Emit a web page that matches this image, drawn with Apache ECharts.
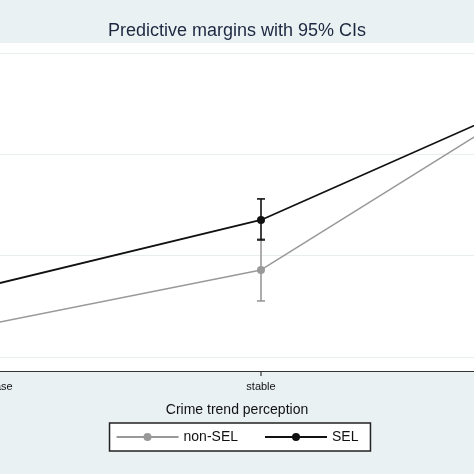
<!DOCTYPE html>
<html><head><meta charset="utf-8">
<script src="https://cdn.jsdelivr.net/npm/echarts@6/dist/echarts.min.js"></script>
<style>html,body{margin:0;padding:0;background:#eaf1f3}#c{width:474px;height:474px}</style>
</head><body><div id="c"></div>
<script>
const categories = ['decrease', 'stable', 'increase'];
const nonSEL = [0.2326, 0.2859, 0.4527];
const nonSELLow = [0.215, 0.2553, 0.430];
const nonSELHigh = [0.250, 0.3165, 0.475];
const SEL = [0.2706, 0.3352, 0.4537];
const SELLow = [0.252, 0.3155, 0.432];
const SELHigh = [0.289, 0.356, 0.476];

function errSeries(name, low, high, color) {
  return {
    type: 'custom', name: name, z: 3, clip: false, itemStyle: { color: color },
    data: categories.map((c, i) => [i, low[i], high[i]]),
    renderItem: function (params, api) {
      const lo = api.coord([api.value(0), api.value(1)]);
      const hi = api.coord([api.value(0), api.value(2)]);
      const w = 4;
      const st = { stroke: color, lineWidth: 1.6 };
      return { type: 'group', children: [
        { type: 'line', shape: { x1: lo[0], y1: lo[1], x2: hi[0], y2: hi[1] }, style: st },
        { type: 'line', shape: { x1: lo[0] - w, y1: lo[1], x2: lo[0] + w, y2: lo[1] }, style: st },
        { type: 'line', shape: { x1: hi[0] - w, y1: hi[1], x2: hi[0] + w, y2: hi[1] }, style: st }
      ]};
    }
  };
}

const labelSeries = {
  type: 'custom', name: 'cats', clip: false, silent: true,
  data: categories.map((c, i) => [i, 0.2]),
  renderItem: function (params, api) {
    const p = api.coord([api.value(0), 0.2]);
    const axisY = p[1] + 14;
    return { type: 'group', children: [
      { type: 'line', shape: { x1: p[0], y1: axisY, x2: p[0], y2: axisY + 5 }, style: { stroke: '#333', lineWidth: 1.2 } },
      { type: 'text', x: p[0], y: axisY + 10, style: { text: categories[params.dataIndex], fill: '#111',
        font: '11px "Liberation Sans"', align: 'center', verticalAlign: 'top' } }
    ]};
  }
};

const chart = echarts.init(document.getElementById('c'));
chart.setOption({
  animation: false,
  backgroundColor: '#eaf1f3',
  graphic: [{ type: 'rect', z: -10, shape: { x: 0, y: 43, width: 474, height: 328 }, style: { fill: '#ffffff' } }],
  title: { text: 'Predictive margins with 95% CIs', left: 'center', top: 17,
    textStyle: { fontFamily: 'Liberation Sans', fontSize: 18, fontWeight: 'normal', color: '#1c2840' } },
  grid: { left: 0, right: 0, top: 53, height: 304 },
  legend: {
    bottom: 23, left: 'center', itemWidth: 62, itemHeight: 10, itemGap: 26,
    borderColor: '#222', borderWidth: 1.5, padding: [7, 12, 7, 6], backgroundColor: '#fff',
    textStyle: { fontFamily: 'Liberation Sans', fontSize: 14, color: '#111' },
    data: [{ name: 'non-SEL' }, { name: 'SEL' }]
  },
  xAxis: {
    type: 'value', min: 1 - 261 / 271, max: 1 + 213 / 271, offset: 14,
    name: 'Crime trend perception', nameLocation: 'middle', nameGap: 32,
    nameTextStyle: { fontFamily: 'Liberation Sans', fontSize: 14, color: '#111' },
    axisLine: { show: true, lineStyle: { color: '#333', width: 1.2 } },
    axisTick: { show: false }, axisLabel: { show: false }, splitLine: { show: false }
  },
  yAxis: {
    type: 'value', min: 0.2, max: 0.5, interval: 0.1,
    axisLabel: { show: false }, axisLine: { show: false }, axisTick: { show: false },
    splitLine: { lineStyle: { color: '#e8eeee', width: 1 } }
  },
  series: [
    errSeries('non-SEL CI', nonSELLow, nonSELHigh, '#999999'),
    errSeries('SEL CI', SELLow, SELHigh, '#111111'),
    labelSeries,
    { name: 'non-SEL', type: 'line', data: nonSEL.map((v, i) => [i, v]), symbol: 'circle', symbolSize: 8, z: 4,
      lineStyle: { color: '#999999', width: 1.5 }, itemStyle: { color: '#999999' } },
    { name: 'SEL', type: 'line', data: SEL.map((v, i) => [i, v]), symbol: 'circle', symbolSize: 8, z: 5,
      lineStyle: { color: '#111111', width: 1.8 }, itemStyle: { color: '#111111' } }
  ]
});
</script></body></html>
